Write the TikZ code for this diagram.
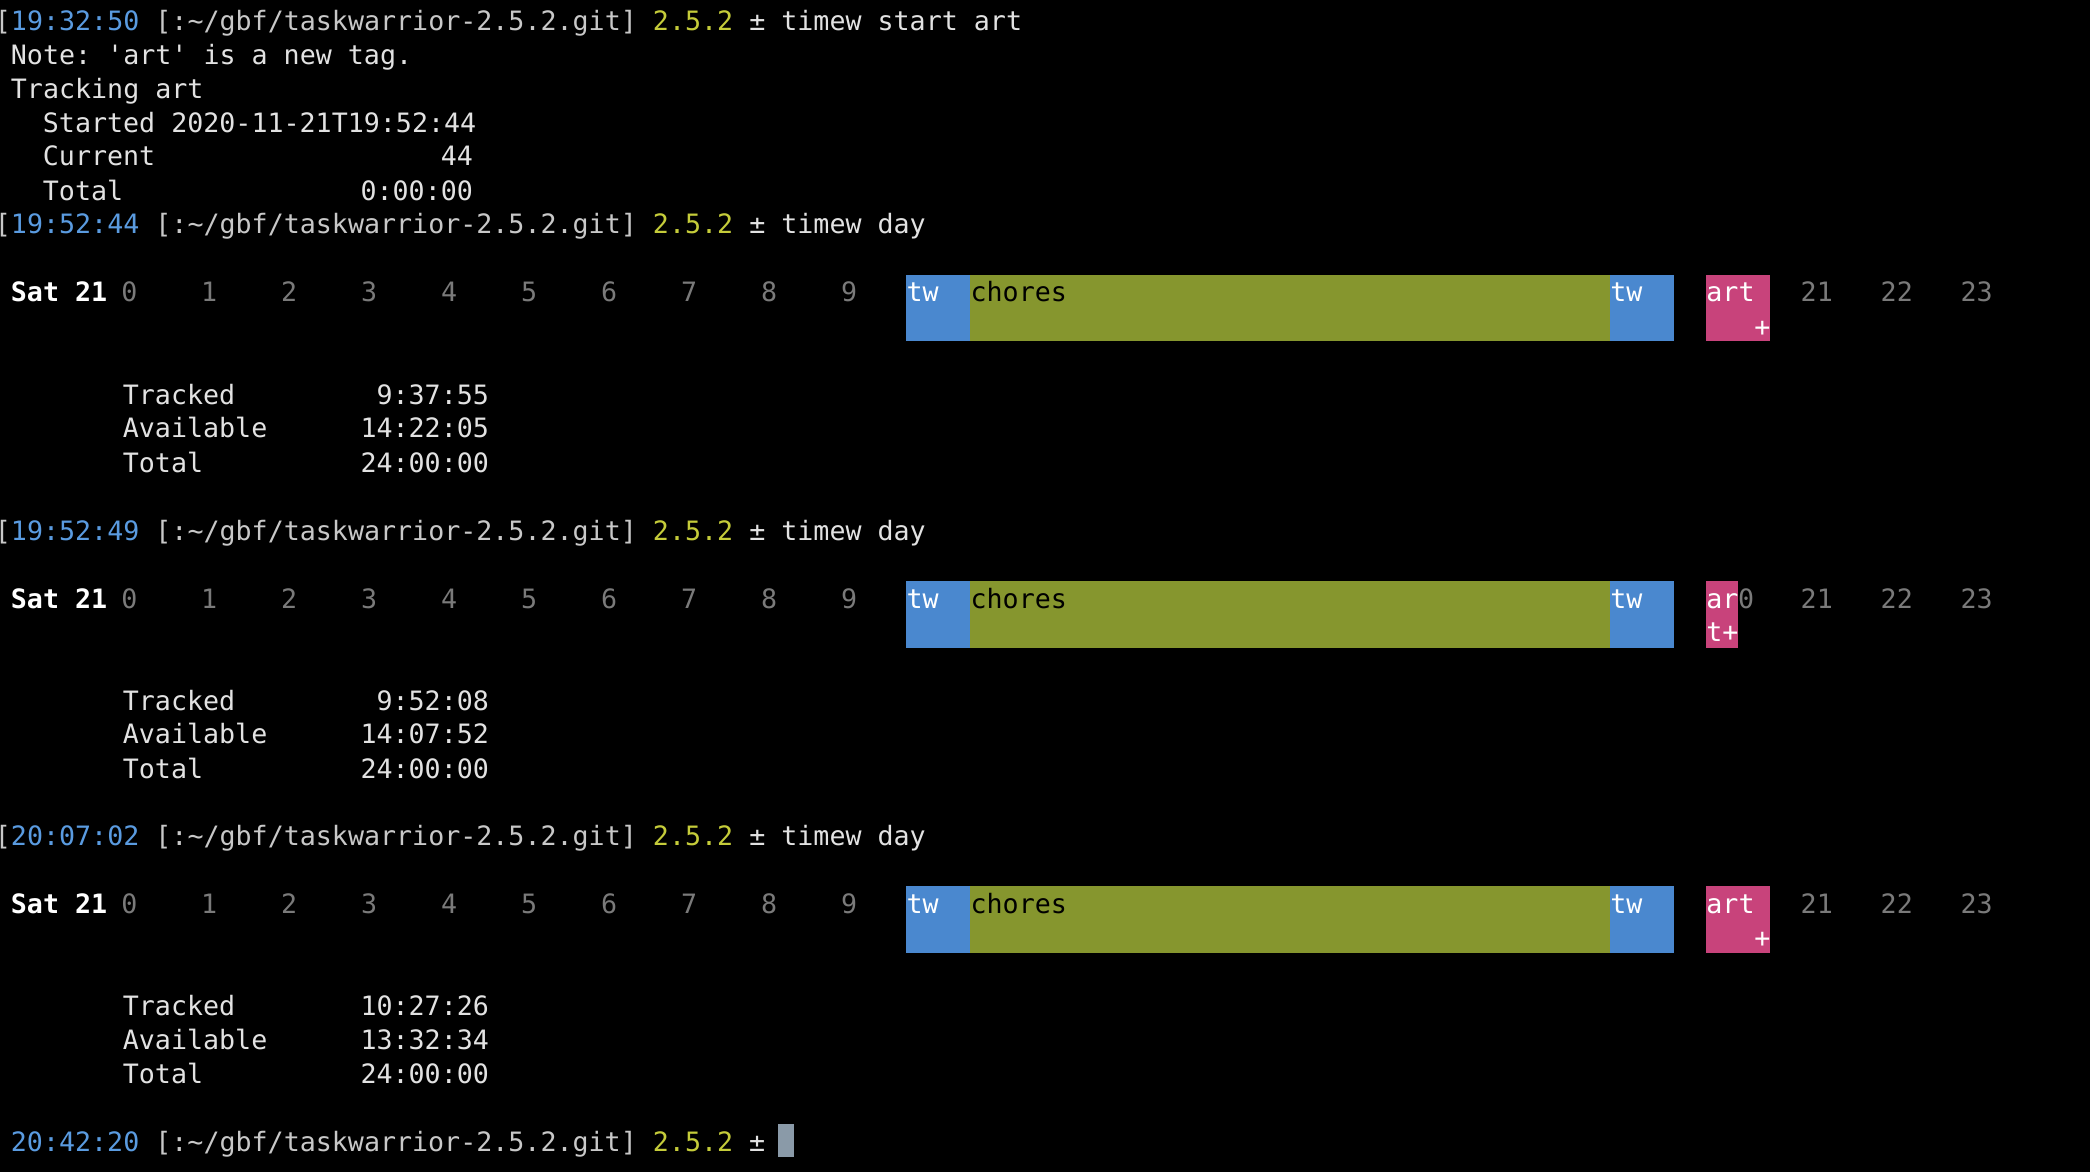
\documentclass[tikz,border=0pt]{standalone}
\usepackage{fontspec}
\setmonofont{DejaVu Sans Mono}
\definecolor{ts}{HTML}{5A9BE0}
\definecolor{pa}{HTML}{C8C8C8}
\definecolor{ver}{HTML}{C5CC3A}
\definecolor{fg}{HTML}{E2E2E2}
\definecolor{hr}{HTML}{7A7A7A}
\definecolor{bl}{HTML}{4A88CF}
\definecolor{ol}{HTML}{86962E}
\definecolor{pk}{HTML}{C8437B}
\definecolor{cur}{HTML}{8A9AA8}
\tikzset{t/.style={anchor=mid west,inner sep=0pt,yshift=-5pt,text=fg,font=\fontsize{20}{24}\selectfont\ttfamily},
te/.style={t,anchor=mid east},
h/.style={t,anchor=mid,text=hr}}
\newcommand\prompt[2]{\textcolor{pa}{[}\textcolor{ts}{#1} \textcolor{pa}{[:\textasciitilde/gbf/taskwarrior-2.5.2.git]} \textcolor{ver}{2.5.2} ± #2}
\begin{document}
\begin{tikzpicture}[x=1pt,y=-1pt]
\fill[black] (0,0) rectangle (1568,879);
\useasboundingbox (0,0) rectangle (1568,879);
\node[t] (p1) at (-4,16) {\prompt{19:32:50}{timew start art}};
\node[t] (n1) at (8,41) {Note: 'art' is a new tag.};
\node[t] (n2) at (8,67) {Tracking art};
\node[t] (n3) at (32,92) {Started 2020-11-21T19:52:44};
\node[t] (n4) at (32,117) {Current};
\node[te] (n4v) at (355,117) {44};
\node[t] (n5) at (32,143) {Total};
\node[te] (n5v) at (355,143) {0:00:00};
\foreach \y/\ps/\tr/\av/\k in {168/19:52:44/9:37:55/14:22:05/1,398/19:52:49/9:52:08/14:07:52/2,627/20:07:02/10:27:26/13:32:34/3}{
  \node[t] (pr\k) at (-4,\y) {\prompt{\ps}{timew day}};
  \pgfmathsetmacro\r{\y+51}
  \pgfmathsetmacro\bt{\y+38}
  \pgfmathsetmacro\bb{\y+88}
  \node[t,font=\fontsize{20}{24}\selectfont\ttfamily\bfseries,text=white] (sat\k) at (8,\r) {Sat 21};
  \foreach \hh in {0,...,9}{\node[h] (hr\k-\hh) at (97+60*\hh,\r) {\hh};}
  \foreach \hh in {21,22,23}{\node[h] (hr\k-\hh) at (103+60*\hh,\r) {\hh};}
  \fill[bl] (680,\bt) rectangle (728,\bb);
  \fill[ol] (728,\bt) rectangle (1208,\bb);
  \fill[bl] (1208,\bt) rectangle (1256,\bb);
  \node[t,text=white] (tw\k a) at (680,\r) {tw};
  \node[t,text=black] (ch\k) at (728,\r) {chores};
  \node[t,text=white] (tw\k b) at (1208,\r) {tw};
  \pgfmathsetmacro\sa{\y+128}
  \pgfmathsetmacro\sb{\y+153}
  \pgfmathsetmacro\sc{\y+179}
  \node[t] (tr\k) at (92,\sa) {Tracked};
  \node[te] (trv\k) at (367,\sa) {\tr};
  \node[t] (av\k) at (92,\sb) {Available};
  \node[te] (avv\k) at (367,\sb) {\av};
  \node[t] (to\k) at (92,\sc) {Total};
  \node[te] (tov\k) at (367,\sc) {24:00:00};
}
\fill[pk] (1280,206) rectangle (1328,256);
\node[t,text=white] (art1) at (1280,219) {art};
\node[t,text=white] (pl1) at (1316,245) {+};
\fill[pk] (1280,436) rectangle (1304,486);
\node[t,text=white] (art2) at (1280,449) {ar};
\node[h] (z2) at (1310,449) {0};
\node[t,text=white] (art2b) at (1280,474) {t+};
\fill[pk] (1280,665) rectangle (1328,715);
\node[t,text=white] (art3) at (1280,678) {art};
\node[t,text=white] (pl3) at (1316,704) {+};
\node[t] (last) at (8,857) {\textcolor{ts}{20:42:20} \textcolor{pa}{[:\textasciitilde/gbf/taskwarrior-2.5.2.git]} \textcolor{ver}{2.5.2} ±};
\fill[cur] (584,843) rectangle (596,868);
\end{tikzpicture}
\end{document}
